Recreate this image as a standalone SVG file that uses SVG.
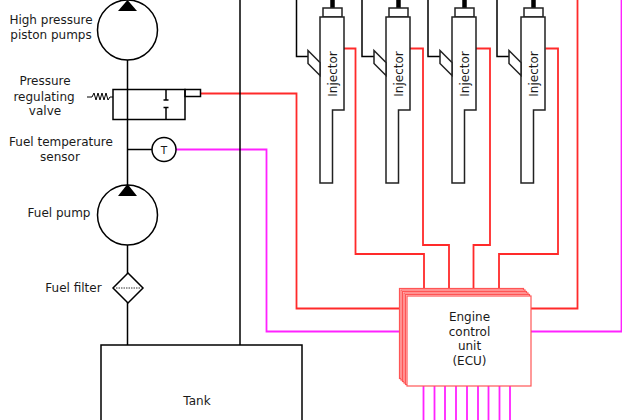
<svg xmlns="http://www.w3.org/2000/svg" width="622" height="420" viewBox="0 0 622 420">
<style>
text{font-family:"DejaVu Sans",sans-serif;font-size:12px;fill:#1a1a1a;text-anchor:middle}
.k{fill:none;stroke:#000;stroke-width:1.500}
.b{fill:#fff;stroke:#222;stroke-width:1.500}
.r{fill:none;stroke:#ff2a2a;stroke-width:1.800}
.m{fill:none;stroke:#ff22ff;stroke-width:1.800}
.e{fill:#fff;stroke:#ff5555;stroke-width:1.200}
</style>
<defs>
<g id="inj">
<path class="k" d="M12.500 0V8" style="stroke-width:4.500"/>
<rect class="b" x="3" y="8" width="19" height="9"/>
<path class="b" d="M0 183V17H24V110H12.500V183Z"/>
<path class="b" d="M-12 50.500L0 62.500V75.500L-12 63.500Z"/>
<text transform="translate(16.500 74) rotate(-90)">Injector</text>
</g>
</defs>
<g id="connectors">
<path class="r" d="M344 48.500H355.500V254H424V289"/>
<path class="r" d="M410 48.500H423V245H449V289"/>
<path class="r" d="M476 48.500H490V245H473.500V289"/>
<path class="r" d="M545.500 48.500H558V254H499V289"/>
<path class="r" d="M577.500 0V308.500H531"/>
<path class="m" d="M621.500 0V331.500H531"/>
<path class="r" d="M200 93.500H296.500V308.500H400"/>
<path class="m" d="M176 149.500H266.500V331.500H400"/>
<path class="k" d="M296.500 0V56.500H308"/>
<path class="k" d="M362 0V56.500H374"/>
<path class="k" d="M428 0V56.500H440"/>
<path class="k" d="M497 0V56.500H509"/>
<path class="k" d="M127.500 60V185M127.500 245V345"/>
<path class="k" d="M240 0V345"/>
<path class="k" d="M127.500 149.500H152"/>
<path class="m" d="M423.500 386V420M434.500 386V420M445 386V420M456 386V420M467 386V420M478 386V420M488.500 386V420M499.500 386V420M510 386V420"/>
</g>
<g id="pump-high"><circle class="k" cx="127.500" cy="30" r="30"/><path d="M127.500 0L137 11H118Z"/>
<text x="51" y="23.500">High pressure</text><text x="51" y="38.500">piston pumps</text></g>
<g id="valve">
<rect class="k" x="113" y="89.500" width="72" height="30"/>
<rect class="k" x="185" y="89.500" width="15.500" height="7"/>
<path class="k" d="M166 89.500V100M163.500 100H168.500M163.500 107.500H168.500M166 107.500V119.500"/>
<path class="k" d="M87 97H92L94 93L96 100L98 93L100 100L102 93L104 100L106 93L108 100L110 97H113" style="stroke-width:1"/>
<text x="45" y="85">Pressure</text><text x="44" y="100.500">regulating</text><text x="45" y="115">valve</text></g>
<g id="sensor"><circle class="k" cx="164" cy="149.500" r="12"/><text x="164" y="153.500" style="font-size:10.500px">T</text>
<text x="61" y="146">Fuel temperature</text><text x="60" y="161">sensor</text></g>
<g id="pump-fuel"><circle class="k" cx="127.500" cy="215" r="30"/><path d="M127.500 184L137 196H118Z"/>
<text x="59" y="217">Fuel pump</text></g>
<g id="filter"><path fill="#fff" stroke="#000" stroke-width="1.500" d="M128 273L143 288L128 303L113 288Z"/><path d="M116 288H140" stroke="#000" stroke-width="0.800" stroke-dasharray="1.500 1"/>
<text x="73.500" y="291.500">Fuel filter</text></g>
<g id="tank"><rect class="k" x="101" y="345" width="201" height="85"/><text x="197" y="405">Tank</text></g>
<g id="injector1"><use href="#inj" x="320"/></g>
<g id="injector2"><use href="#inj" x="386"/></g>
<g id="injector3"><use href="#inj" x="452"/></g>
<g id="injector4"><use href="#inj" x="521"/></g>
<g id="ecu">
<rect class="e" x="399.500" y="288.500" width="124" height="90"/>
<rect class="e" x="401" y="290" width="124" height="90"/>
<rect class="e" x="402.500" y="291.500" width="124" height="90"/>
<rect class="e" x="404" y="293" width="124" height="90"/>
<rect class="e" x="405.500" y="294.500" width="124" height="90"/>
<rect class="e" x="407" y="296" width="124" height="90"/>
<text x="469.500" y="321">Engine</text><text x="469.500" y="335.500">control</text><text x="469.500" y="350">unit</text><text x="469.500" y="365">(ECU)</text>
</g>
</svg>
